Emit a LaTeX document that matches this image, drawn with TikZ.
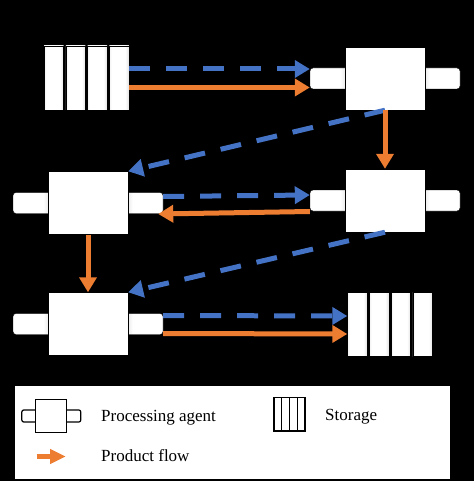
\documentclass[tikz,border=0pt]{standalone}
\usepackage{fontspec}
\setmainfont{Liberation Serif}
\usetikzlibrary{arrows.meta}
\definecolor{infoblue}{RGB}{68,114,196}
\definecolor{floworange}{RGB}{237,125,49}
\pgfdeclarehorizontalshading{portshade}{100bp}{color(0bp)=(white); color(25bp)=(white); color(62bp)=(white); color(75bp)=(gray!35); color(100bp)=(gray!35)}
\pgfdeclarehorizontalshading{cellshade}{100bp}{color(0bp)=(gray!12); color(25bp)=(gray!12); color(31bp)=(white); color(66bp)=(white); color(75bp)=(gray!22); color(100bp)=(gray!22)}

\begin{document}
\begin{tikzpicture}[x=1pt,y=-1pt,
    agent/.style={draw=black,fill=white,minimum width=80pt,minimum height=63pt,inner sep=0pt},
    portl/.style={draw=black,rounded corners=3pt,minimum width=41pt,minimum height=21pt,inner sep=0pt,shading=portshade},
    portr/.style={portl,shading angle=180},
    cell/.style={draw=black,minimum width=19.5pt,minimum height=64pt,inner sep=0pt,shading=cellshade},
    info/.style={line width=5pt,draw=infoblue,dash pattern=on 21pt off 16pt,-{Triangle[length=15pt,width=17pt]}},
    flow/.style={line width=5pt,draw=floworange,-{Triangle[length=15pt,width=17pt]}},
    lbl/.style={font=\fontsize{17}{20}\selectfont,anchor=base west,inner sep=0pt}]
    \useasboundingbox (0,0) rectangle (474,481);
    \fill[black] (0,0) rectangle (474,481);
    \def\agents{(385,78.5),(88,203),(385,200.5),(88,324)}
    %             1           2        3           4
    \foreach \p [count=\i from 1] in \agents {
      \node[portl,xshift=-54.5pt] (l\i) at \p {};
      \node[portr,xshift=54.5pt] (r\i) at \p {};
      \node[agent] (a\i) at \p {};
    }
    \foreach \j in {1,...,4} {\node[cell] (s\j) at ({53.75+(\j-1)*21.75},78) {};}
    \foreach \j in {1,...,4} {\node[cell] (t\j) at ({357.25+(\j-1)*21.75},324) {};}
    \draw[info] ([yshift=9pt]s4.east) -- ([yshift=9.5pt]l1.west);
    \draw[flow] ([yshift=-9.5pt]s4.east) -- ([yshift=-9pt]l1.west);
    \draw[info] (a1.south) -- (a2.north east);
    \draw[flow] (a1.south) -- (a3.north);
    \draw[info] ([yshift=6.5pt]r2.east) -- ([yshift=5.5pt]l3.west);
    \draw[flow] ([yshift=-11pt]l3.west) -- ([xshift=-5pt,yshift=-11pt]r2.east);
    \draw[info] (a3.south) -- (a4.north east);
    \draw[flow] (a2.south) -- (a4.north);
    \draw[info] ([yshift=8.5pt]r4.east) -- ([yshift=8pt]t1.west);
    \draw[flow] ([yshift=-9.5pt]r4.east) -- ([yshift=-10pt]t1.west);
    % legend
    \node[fill=white,minimum width=435pt,minimum height=93pt,inner sep=0pt] (legend) at (232.5,432.5) {};
    \node[draw=black,line width=1.2pt,rounded corners=2pt,fill=white,minimum width=18pt,minimum height=12pt,inner sep=0pt] (kl) at (30.8,416) {};
    \node[draw=black,line width=1.2pt,rounded corners=2pt,fill=white,minimum width=18pt,minimum height=12pt,inner sep=0pt] (kr) at (71.8,416) {};
    \node[draw=black,line width=1.2pt,fill=white,minimum width=31pt,minimum height=33pt,inner sep=0pt] (ka) at (51.3,416) {};
    \foreach \j in {1,...,4} {\node[draw=black,line width=1.2pt,fill=white,minimum width=7.75pt,minimum height=33.3pt,inner sep=0pt] (ks\j) at ({277.9+(\j-1)*7.75},414.3) {};}
    \coordinate (kf1) at (36.7,456.5);
    \coordinate (kf2) at (65.7,456.5);
    \draw[flow,line width=5.5pt,-{Triangle[length=15.5pt,width=14pt]}] (kf1) -- (kf2);
    \node[lbl] (tagent) at (101,421.5) {Processing agent};
    \node[lbl] (tstore) at (325,420.5) {Storage};
    \node[lbl] (tflow) at (101,461.5) {Product flow};
  \end{tikzpicture}
\end{document}
